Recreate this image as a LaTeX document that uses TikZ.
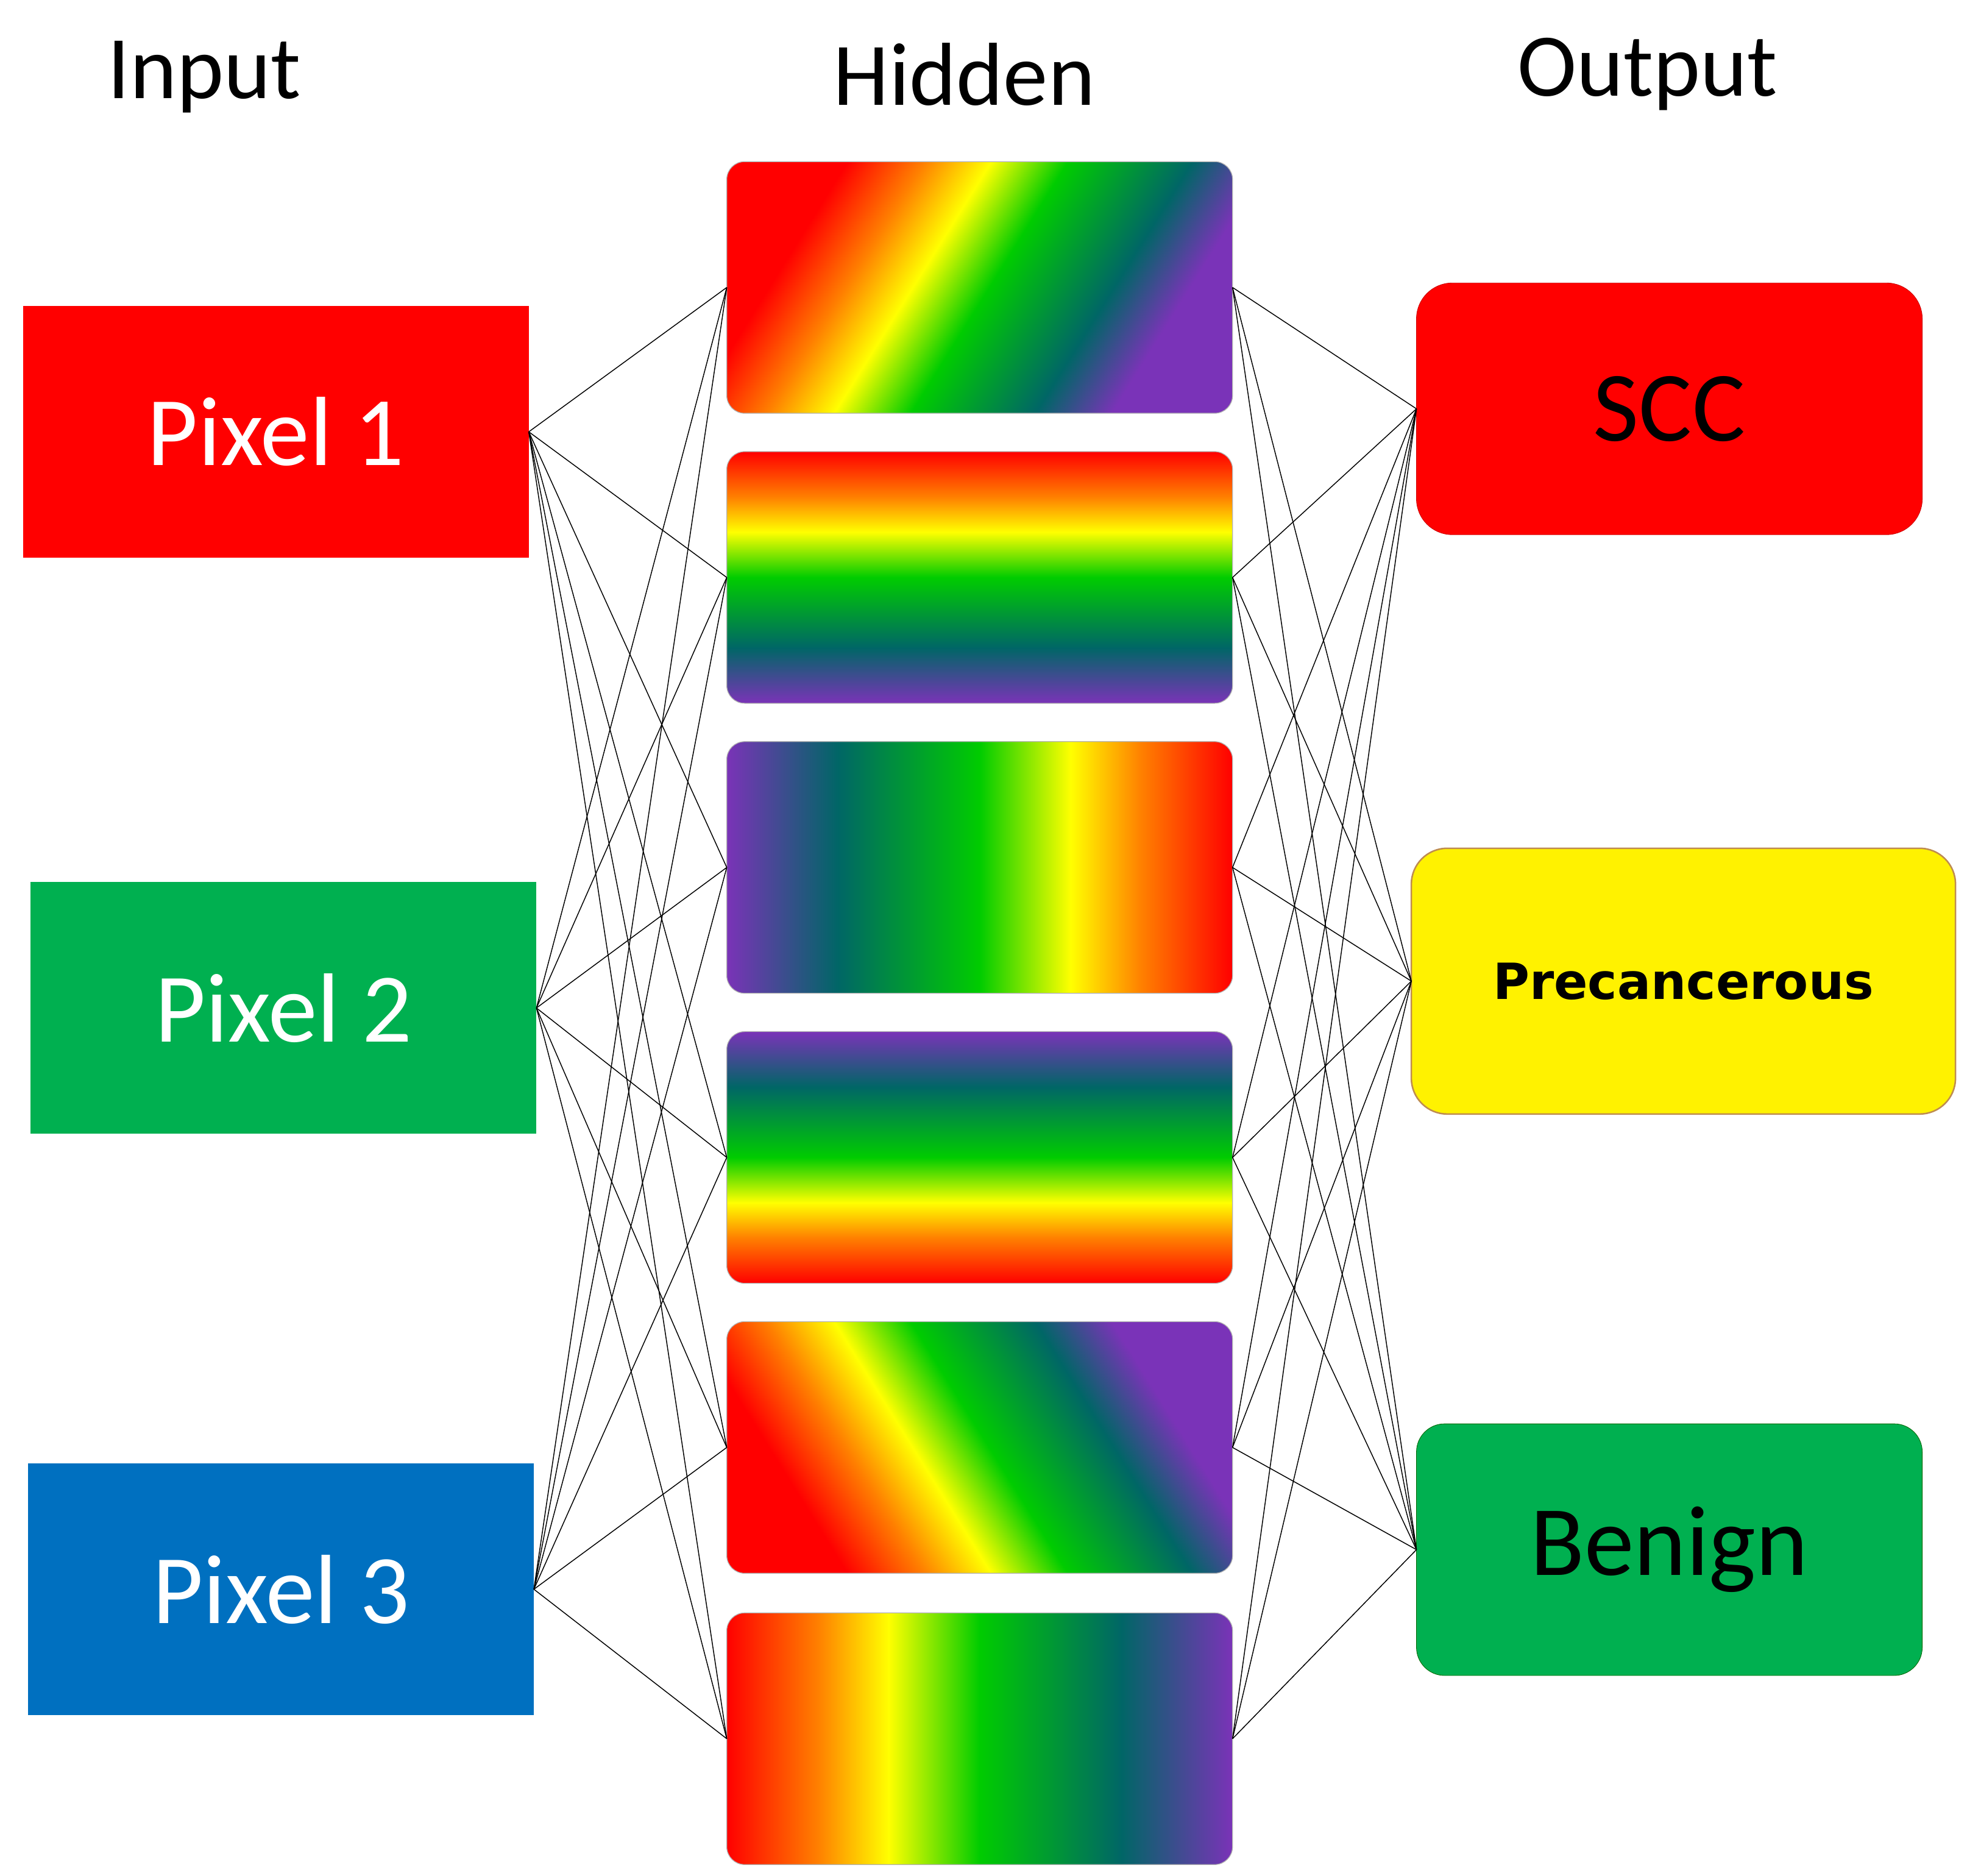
\documentclass[tikz,border=0pt]{standalone}
\usepackage{fontspec}
\setmainfont{Carlito}
\newfontfamily\dvs{DejaVu Sans}
\pgfdeclarehorizontalshading{rainbow}{100bp}{
 color(0bp)=(red); color(25bp)=(red); color(34bp)=(orange); color(41bp)=(yellow);
 color(50bp)=(green!80!black); color(64bp)=(teal!80!black); color(75bp)=(violet!70!blue!80); color(100bp)=(violet!70!blue!80)}
\pgfdeclarehorizontalshading{rainbowd}{100bp}{
 color(0bp)=(red); color(28bp)=(red); color(36bp)=(orange); color(43bp)=(yellow);
 color(51bp)=(green!80!black); color(64bp)=(teal!80!black); color(72bp)=(violet!70!blue!80); color(100bp)=(violet!70!blue!80)}
\begin{document}
\begin{tikzpicture}[x=1pt,y=1pt,
 box/.style={rectangle,inner sep=0pt,outer sep=0pt,minimum width=396pt,minimum height=197pt},
 hid/.style={box,rounded corners=14pt,shading=rainbow,draw=gray!60,line width=0.6pt},
 hidd/.style={hid,shading=rainbowd},
 ttl/.style={font=\fontsize{70}{80}\selectfont},
 pix/.style={font=\fontsize{77}{80}\selectfont,text=white},
 conn/.style={black,line width=0.7pt}]
\useasboundingbox (0,0) rectangle (1551,-1468);
\node[ttl] at (160,-60) {Input};
\node[ttl] at (755,-58) {Hidden};
\node[ttl] at (1290,-58) {Output};
\node[box,fill={rgb,255:red,255;green,0;blue,0},pix] (p1) at (216,-338) {Pixel 1};
\node[box,fill={rgb,255:red,0;green,176;blue,80},pix] (p2) at (222,-789) {Pixel 2};
\node[box,fill={rgb,255:red,0;green,112;blue,192},pix] (p3) at (220,-1244) {Pixel 3};
\node[hidd,shading angle=-32] (h1) at (767,-225) {};
\node[hid,shading angle=-90] (h2) at (767,-452) {};
\node[hid,shading angle=180] (h3) at (767,-679) {};
\node[hid,shading angle=90] (h4) at (767,-906) {};
\node[hidd,shading angle=32] (h5) at (767,-1133) {};
\node[hid,shading angle=0] (h6) at (767,-1361) {};
\node[box,rounded corners=28pt,fill={rgb,255:red,255;green,0;blue,0},draw=red!80!black,font=\fontsize{78}{80}\selectfont] (o1) at (1307,-320) {SCC};
\node[box,rounded corners=28pt,minimum width=426pt,minimum height=208pt,fill=yellow,draw={rgb,255:red,190;green,140;blue,80},line width=1.2pt,font=\dvs\bfseries\fontsize{39}{44}\selectfont] (o2) at (1318,-768) {Precancerous};
\node[box,rounded corners=22pt,fill={rgb,255:red,0;green,176;blue,80},draw=green!40!black,font=\fontsize{78}{80}\selectfont] (o3) at (1307,-1213) {Benign};
\foreach \i in {p1,p2,p3}{\foreach \j in {h1,h2,h3,h4,h5,h6}{\draw[conn] (\i.east) -- (\j.west);}}
\foreach \j in {h1,h2,h3,h4,h5,h6}{\foreach \o in {o1,o2,o3}{\draw[conn] (\j.east) -- (\o.west);}}
\end{tikzpicture}
\end{document}
